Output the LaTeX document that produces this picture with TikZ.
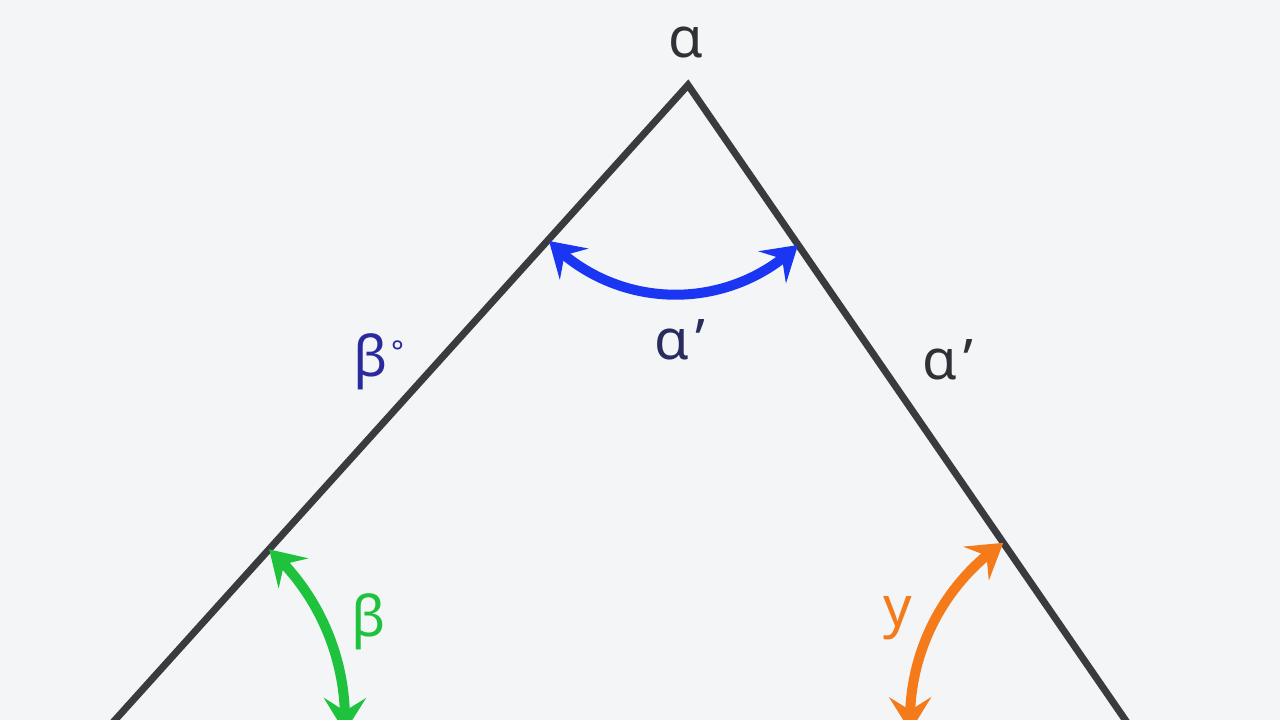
\documentclass[tikz,border=0pt]{standalone}
\usepackage{fontspec}
\setmainfont{Noto Sans}
\usetikzlibrary{arrows.meta,bending}
\definecolor{bg}{HTML}{F4F5F7}
\definecolor{edge}{HTML}{3A3B3F}
\definecolor{arcblue}{HTML}{1B36F2}
\definecolor{arcgreen}{HTML}{1EC23C}
\definecolor{arcorange}{HTML}{F57A1A}
\definecolor{navytext}{HTML}{2A2A9C}
\definecolor{midtext}{HTML}{2B2C5E}
\definecolor{darktext}{HTML}{303036}
\tikzset{
  side/.style={line width=7pt, color=edge, line cap=round},
  anglearc/.style={line width=10pt, {Stealth[length=34pt,width=42pt,inset=13pt,flex]}-{Stealth[length=34pt,width=42pt,inset=13pt,flex]}},
  lbl/.style={font=\fontsize{56}{64}\selectfont, inner sep=0pt}
}
\begin{document}
\begin{tikzpicture}[x=1pt,y=1pt]
\fill[bg] (0,0) rectangle (1280,-720);
\useasboundingbox (0,0) rectangle (1280,-720);
\clip (0,0) rectangle (1280,-720);
% vertices
\coordinate (apex) at (688,-85);
\coordinate (bl) at (115,-720);
\coordinate (br) at (1125,-720);
\coordinate (blx) at (88,-750);
\coordinate (brx) at (1146,-750);
% sides
\draw[side] (blx) -- (apex) -- (brx);
% blue arc at apex
\coordinate (bA) at (549,-241);
\coordinate (bB) at (798,-245);
\draw[anglearc, arcblue] (bA) to[bend right=45] (bB);
% green arc at bottom-left
\draw[anglearc, arcgreen] ([shift={(47.9:230)}]bl) arc[start angle=47.9, end angle=-3, radius=230];
% orange arc at bottom-right
\draw[anglearc, arcorange] ([shift={(124.5:215)}]br) arc[start angle=124.5, end angle=183, radius=215];
% labels
\node[lbl, text=darktext] (la) at (686,-42) {α};
\node[lbl, text=navytext] (lb0) at (379,-362) {β\kern3pt\raisebox{14pt}{\fontsize{30}{30}\selectfont °}};
\node[lbl, text=midtext] (lam) at (680,-340) {α\kern6pt'};
\node[lbl, text=darktext] (lar) at (948,-360) {α\kern6pt'};
\node[lbl, text=arcgreen] (lbg) at (369,-622) {β};
\node[lbl, text=arcorange] (ly) at (898,-618) {y};
\end{tikzpicture}
\end{document}
